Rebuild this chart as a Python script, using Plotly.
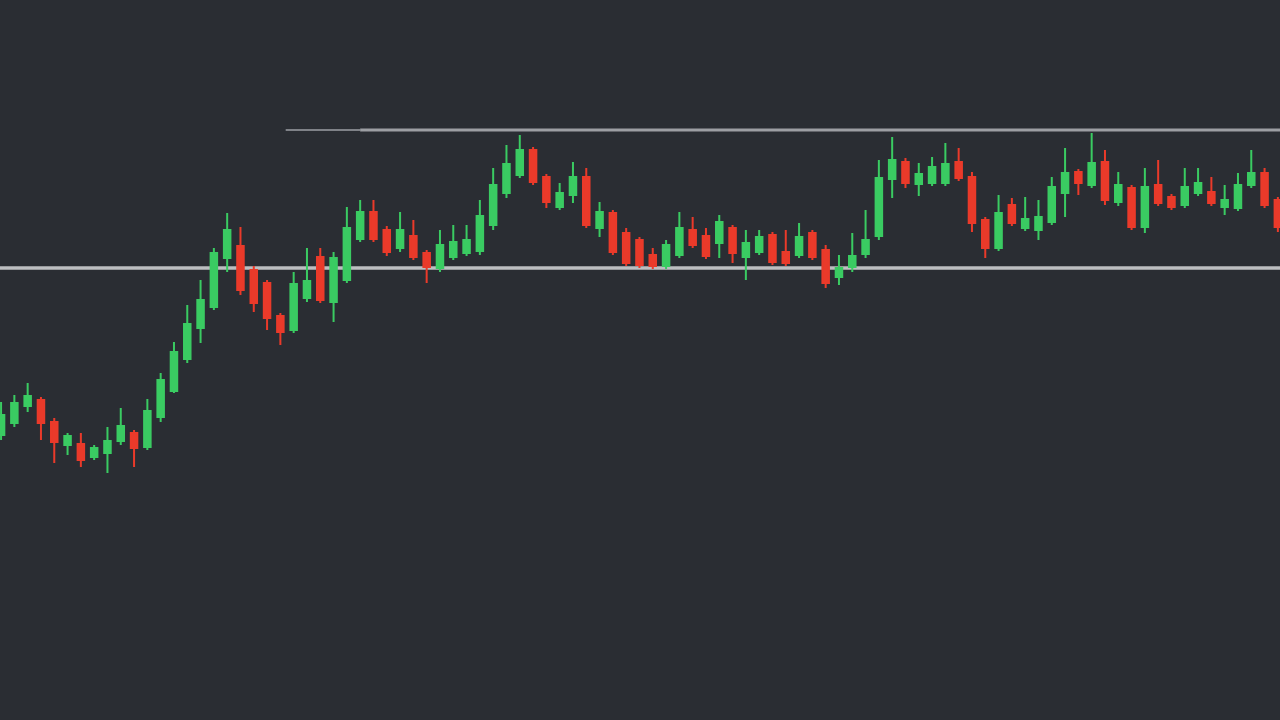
import plotly.graph_objects as go

# Candle index (one per session)
idx = list(range(97))

open_ = [28.5, 29.7, 31.4, 32.0, 29.8, 27.5, 27.6, 26.3, 26.7, 27.9,
         28.7, 27.3, 30.3, 32.9, 36.1, 39.2, 41.3, 46.2, 47.4, 45.0,
         43.7, 40.4, 39.0, 42.2, 46.3, 41.8, 44.0, 48.1, 50.8, 49.0,
         47.2, 48.4, 46.7, 45.2, 46.3, 46.7, 46.9, 49.5, 52.7, 54.5,
         57.0, 54.3, 51.3, 52.5, 54.3, 49.2, 50.7, 48.7, 48.0, 46.5,
         45.4, 46.5, 49.0, 48.4, 47.7, 49.2, 46.3, 46.8, 48.5, 46.8,
         46.5, 48.7, 47.0, 44.3, 45.3, 46.6, 48.4, 54.1, 55.8, 53.6,
         53.7, 53.7, 55.8, 54.3, 50.0, 47.2, 51.5, 49.2, 49.0, 49.8,
         52.7, 54.8, 53.5, 55.8, 51.8, 53.2, 49.3, 53.5, 52.3, 51.5,
         52.7, 52.8, 51.3, 51.2, 53.5, 54.7, 52.0]
high = [31.8, 32.5, 33.7, 32.3, 30.2, 28.7, 28.7, 27.5, 29.3, 31.2,
        29.0, 32.1, 34.7, 37.8, 41.5, 44.0, 47.2, 50.7, 49.3, 45.4,
        44.0, 40.7, 44.8, 47.2, 47.2, 46.8, 51.3, 52.0, 52.0, 49.4,
        50.8, 50.0, 47.0, 49.0, 49.5, 49.5, 52.0, 55.2, 57.5, 58.5,
        57.3, 54.6, 53.7, 55.8, 55.2, 51.8, 51.0, 49.2, 48.3, 47.2,
        48.0, 50.8, 50.3, 49.2, 50.5, 49.5, 49.0, 49.0, 48.8, 49.0,
        49.7, 49.0, 47.5, 46.5, 48.7, 51.0, 56.0, 58.3, 56.2, 55.7,
        56.3, 57.7, 57.2, 54.8, 50.3, 52.5, 52.2, 52.3, 52.0, 54.3,
        57.2, 55.1, 58.7, 57.0, 54.8, 53.5, 55.2, 56.0, 52.6, 55.2,
        55.2, 54.3, 53.5, 54.7, 57.0, 55.2, 52.3]
low = [28.0, 29.3, 30.8, 28.0, 25.7, 26.5, 25.3, 26.0, 24.7, 27.5,
       25.3, 27.0, 29.8, 32.7, 35.7, 37.7, 41.0, 44.8, 42.5, 40.8,
       39.0, 37.5, 38.7, 41.8, 41.7, 39.8, 43.7, 47.8, 47.8, 46.4,
       46.8, 46.0, 43.7, 44.8, 46.0, 46.4, 46.5, 49.0, 52.2, 54.2,
       53.5, 51.2, 51.0, 51.7, 49.2, 48.3, 46.5, 45.4, 45.2, 45.1,
       45.1, 46.2, 47.2, 46.1, 46.2, 45.7, 44.0, 46.5, 45.5, 45.4,
       46.2, 46.0, 43.2, 43.5, 44.8, 46.2, 48.0, 52.2, 53.2, 52.4,
       53.4, 53.4, 53.9, 48.8, 46.2, 46.9, 49.4, 48.9, 48.0, 49.5,
       50.3, 52.5, 53.2, 51.5, 51.4, 49.0, 48.7, 51.4, 51.0, 51.2,
       52.4, 51.4, 50.5, 50.9, 53.2, 51.2, 48.8]
close = [30.5, 31.7, 32.4, 29.7, 27.8, 28.4, 26.0, 27.2, 27.9, 29.4,
         27.2, 30.9, 34.0, 36.8, 39.6, 42.0, 46.7, 49.0, 43.0, 41.7,
         40.2, 38.8, 43.6, 43.9, 42.0, 46.2, 49.2, 50.8, 48.1, 46.8,
         49.0, 46.3, 45.3, 47.5, 47.8, 48.0, 50.4, 53.5, 55.6, 57.0,
         53.8, 51.8, 52.7, 54.3, 49.5, 50.8, 46.8, 45.7, 45.5, 45.4,
         47.5, 49.2, 47.5, 46.4, 49.8, 46.7, 47.7, 48.3, 45.8, 45.7,
         48.3, 46.3, 43.7, 45.2, 46.4, 48.0, 54.2, 56.0, 53.7, 54.6,
         55.3, 55.6, 54.2, 49.7, 47.2, 50.7, 49.7, 50.1, 50.3, 53.3,
         54.7, 53.7, 55.7, 52.0, 53.5, 49.3, 53.3, 51.7, 51.3, 53.3,
         53.7, 51.7, 52.0, 53.5, 54.7, 51.5, 49.3]

# Horizontal levels
support_level = 45.2
resistance_level = 59.0
resistance_start = 21.4
resistance_bright_start = 27.0

BG = "#2a2d33"
UP = "#3acb62"
DOWN = "#ea3a2a"

fig = go.Figure()
fig.add_trace(go.Candlestick(
    x=idx, open=open_, high=high, low=low, close=close,
    increasing=dict(line=dict(color=UP, width=2), fillcolor=UP),
    decreasing=dict(line=dict(color=DOWN, width=2), fillcolor=DOWN),
    whiskerwidth=0,
    showlegend=False,
    hoverinfo="skip",
))

x_min, x_max = -0.08, 96.16

# support line (full width)
fig.add_shape(type="line", xref="x", yref="y",
              x0=x_min, x1=x_max, y0=support_level, y1=support_level,
              line=dict(color="#bcbec1", width=3.5), layer="below")
# resistance line (dim start, brighter remainder)
fig.add_shape(type="line", xref="x", yref="y",
              x0=resistance_start, x1=resistance_bright_start,
              y0=resistance_level, y1=resistance_level,
              line=dict(color="#7f8288", width=2), layer="below")
fig.add_shape(type="line", xref="x", yref="y",
              x0=resistance_bright_start, x1=x_max,
              y0=resistance_level, y1=resistance_level,
              line=dict(color="#9c9ea3", width=3), layer="below")

fig.update_layout(
    width=1280, height=720,
    margin=dict(l=0, r=0, t=0, b=0),
    paper_bgcolor=BG, plot_bgcolor=BG,
    xaxis=dict(range=[x_min, x_max], visible=False, showgrid=False,
               rangeslider=dict(visible=False), fixedrange=True),
    yaxis=dict(range=[0, 72], visible=False, showgrid=False, fixedrange=True),
    showlegend=False,
)

fig.write_html(
    "out.html",
    config={"displayModeBar": False},
    post_script="document.body.style.margin='0';document.body.style.background='%s';"
                "document.body.style.overflow='hidden';" % BG,
)
